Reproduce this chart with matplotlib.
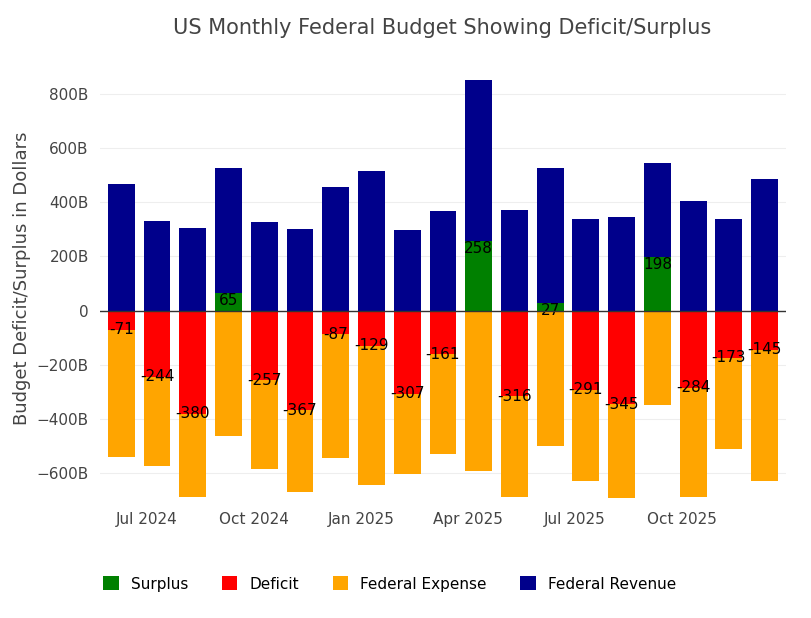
import numpy as np
import matplotlib.pyplot as plt

months = ["Jun 2024", "Jul 2024", "Aug 2024", "Sep 2024", "Oct 2024", "Nov 2024", "Dec 2024",
          "Jan 2025", "Feb 2025", "Mar 2025", "Apr 2025", "May 2025", "Jun 2025", "Jul 2025",
          "Aug 2025", "Sep 2025", "Oct 2025", "Nov 2025", "Dec 2025"]
revenue = [466, 330, 306, 527, 326, 301, 455, 513, 296, 368, 850, 372, 525, 339, 344, 545, 404, 336, 484]
expense = [538, 574, 686, 462, 585, 668, 542, 641, 603, 528, 591, 686, 498, 629, 689, 347, 688, 509, 629]
balance = [-71, -244, -380, 65, -257, -367, -87, -129, -307, -161, 258, -316, 27, -291, -345, 198, -284, -173, -145]

tick_idx = [1, 4, 7, 10, 13, 16]
tick_labels = ["Jul 2024", "Oct 2024", "Jan 2025", "Apr 2025", "Jul 2025", "Oct 2025"]

x = np.arange(len(months))
surplus = [b if b > 0 else 0 for b in balance]
deficit = [b if b < 0 else 0 for b in balance]

fig = plt.figure(figsize=(8.12, 6.18), dpi=100)
ax = fig.add_axes([0.123, 0.19, 0.845, 0.72])
w = 0.75
ax.bar(x, revenue, w, color="#00008b", label="Federal Revenue", zorder=2)
ax.bar(x, [-e for e in expense], w, color="orange", label="Federal Expense", zorder=2)
ax.bar(x, surplus, w, color="green", label="Surplus", zorder=3)
ax.bar(x, deficit, w, color="red", label="Deficit", zorder=3)
for xi, b in zip(x, balance):
    ax.text(xi, b, str(b), ha="center", va="top" if b > 0 else "center",
            fontsize=11, color="black", zorder=4)

ax.axhline(0, color="#333333", lw=1, zorder=4)
ax.set_ylim(-700, 940)
ax.set_xlim(-0.6, len(months) - 0.4)
ax.set_yticks([-600, -400, -200, 0, 200, 400, 600, 800])
ax.set_yticklabels(["−600B", "−400B", "−200B", "0", "200B", "400B", "600B", "800B"])
ax.set_xticks([i - 0.3 for i in tick_idx])
ax.set_xticklabels(tick_labels)
ax.tick_params(length=0, labelsize=11, colors="#444444", pad=8)
ax.grid(axis="y", color="#eeeeee", zorder=0)
for s in ax.spines.values():
    s.set_visible(False)
ax.set_ylabel("Budget Deficit/Surplus in Dollars", fontsize=13, color="#444444")
fig.text(0.545, 0.955, "US Monthly Federal Budget Showing Deficit/Surplus",
         ha="center", va="center", fontsize=15, color="#444444")

h, l = ax.get_legend_handles_labels()
order = [2, 3, 1, 0]
fig.legend([h[i] for i in order], [l[i] for i in order], loc="center", ncol=4,
           bbox_to_anchor=(0.48, 0.055), frameon=False, fontsize=11, handlelength=1,
           handleheight=1, columnspacing=2.2)

fig.savefig("out.png")
